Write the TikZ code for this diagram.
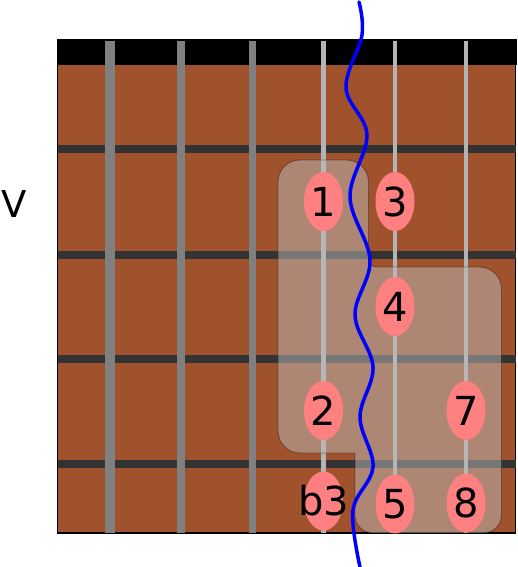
\documentclass[tikz,border=0pt]{standalone}
\usepackage{fontspec}
\setmainfont{DejaVu Sans}
\usetikzlibrary{shapes.geometric}
\definecolor{board}{HTML}{A0522D}
\definecolor{fretc}{HTML}{333333}
\definecolor{strdark}{HTML}{808080}
\definecolor{strlight}{HTML}{B4B4B4}
\definecolor{dotc}{HTML}{FF8080}
\definecolor{hilite}{HTML}{BBBBBB}
\begin{document}
\begin{tikzpicture}[x=1pt,y=-1pt,
  fretbar/.style={draw=fretc,line width=8pt},
  gstring/.style={draw=strdark},
  tstring/.style={draw=strlight},
  hl/.style={fill=hilite,fill opacity=0.5,draw=black,draw opacity=0.35,line width=0.9pt},
  dot/.style={ellipse,fill=dotc,minimum width=39pt,minimum height=59pt,inner sep=0pt},
  lbl/.style={inner sep=0pt,font=\fontsize{40}{40}\selectfont},
  vlbl/.style={inner sep=0pt,font=\fontsize{37}{37}\selectfont},
  wave/.style={draw=blue,line width=3.5pt,line cap=round}]
\useasboundingbox (0,0) rectangle (517,567);
% fretboard
\path[fill=board,draw=black,line width=1.5pt] (57.5,45) rectangle (515.5,533);
% frets
\foreach \y in {149,254.5,359,464} \draw[fretbar] (57.5,\y) -- (515.5,\y);
% nut
\fill[black] (57,39.5) rectangle (517,65);
% strings
\draw[gstring,line width=10pt] (110,41) -- (110,533);
\draw[gstring,line width=8pt] (181,41) -- (181,533);
\draw[gstring,line width=6.5pt] (252.5,41) -- (252.5,533);
\draw[tstring,line width=5pt] (323.5,41) -- (323.5,533);
\draw[tstring,line width=4pt] (395,41) -- (395,533);
\draw[tstring,line width=4pt] (466,41) -- (466,533);
% highlighted region
\path[hl] (278,300) [rounded corners=22pt] -- (278,160) -- (368.5,160)
  [rounded corners=8pt] -- (368.5,267) [rounded corners=22pt] -- (501.5,267)
  [rounded corners=18pt] -- (501.5,533) -- (355,533) [sharp corners] -- (355,453)
  [rounded corners=22pt] -- (278,453) -- cycle;
% dots
\node[dot] (d1) at (323.5,201.5) {};
\node[dot] (d3) at (395,201.5) {};
\node[dot] (d4) at (395,306.5) {};
\node[dot] (d2) at (323.5,410.5) {};
\node[dot] (d7) at (466,410.5) {};
\node[dot] (db3) at (323.5,501) {};
\node[dot] (d5) at (395,504) {};
\node[dot] (d8) at (466,503) {};
\node[lbl] at (d1) {1};
\node[lbl] at (d3) {3};
\node[lbl] at (d4) {4};
\node[lbl] at (d2) {2};
\node[lbl] at (d7) {7};
\node[lbl] at (db3) {b3};
\node[lbl] at (d5) {5};
\node[lbl] at (d8) {8};
% label V
\node[vlbl] (v) at (14,204) {V};
% blue wave
\draw[wave] plot[smooth,tension=0.6] coordinates {(359,2) (362,35) (346,88) (367,135) (350,197) (370,260) (355,315) (373,367) (360,417) (373,467) (353,510) (360,567)};
\end{tikzpicture}
\end{document}
